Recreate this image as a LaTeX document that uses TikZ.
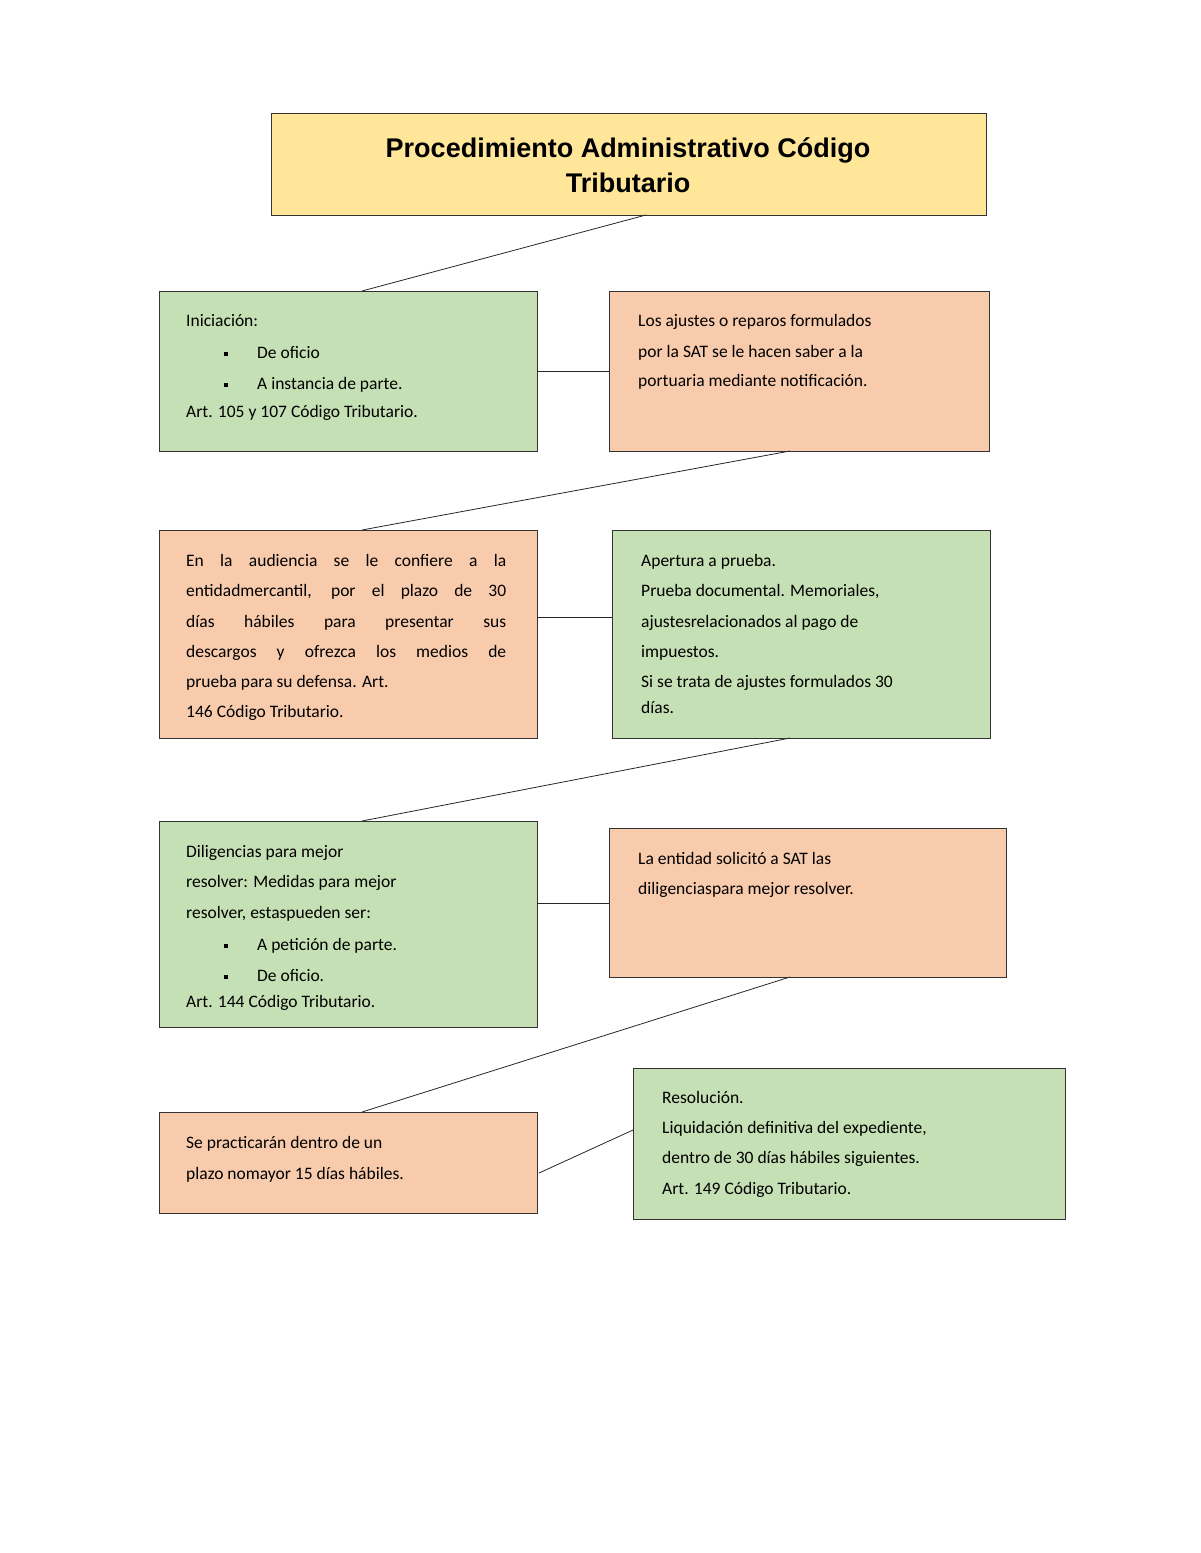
\documentclass[tikz,border=0pt]{standalone}
\usepackage{fontspec}
\setmainfont{Carlito}
\newfontfamily\titlefont{Liberation Sans}
\begin{document}
\begin{tikzpicture}[x=1pt,y=-1pt,
  box/.style={draw=black!80,line width=0.8pt,anchor=north west,inner sep=0pt},
  gbox/.style={box,fill=green1},
  obox/.style={box,fill=orange1},
  tl/.style={anchor=base west,inner sep=0pt,font=\fontsize{17.5}{20}\selectfont},
  conn/.style={draw=black!85,line width=0.8pt}]
\definecolor{green1}{HTML}{C5E0B4}
\definecolor{orange1}{HTML}{F8CBAD}
\definecolor{yellow1}{HTML}{FFE699}
\newcommand{\bul}{\rule[2pt]{4pt}{4pt}}
\useasboundingbox (0,0) rectangle (1200,1553);
\node[box,fill=yellow1,minimum width=715,minimum height=102] (t) at (271,113) {};
\node[font=\titlefont\bfseries\fontsize{27}{35}\selectfont,align=center] (tt) at (628,165) {Procedimiento Administrativo Código\\Tributario};
\node[gbox,minimum width=378,minimum height=160] (b1) at (159,291) {};
\node[obox,minimum width=380,minimum height=160] (b2) at (609,291) {};
\node[obox,minimum width=378,minimum height=208] (b3) at (159,530) {};
\node[gbox,minimum width=378,minimum height=208] (b4) at (612,530) {};
\node[gbox,minimum width=378,minimum height=206] (b5) at (159,821) {};
\node[obox,minimum width=397,minimum height=149] (b6) at (609,828) {};
\node[obox,minimum width=378,minimum height=101] (b7) at (159,1112) {};
\node[gbox,minimum width=432,minimum height=151] (b8) at (633,1068) {};
% connectors
\coordinate (c1) at (646,215); \coordinate (c2) at (362,291);
\draw[conn] (c1) -- (c2);
\draw[conn] (b1.east) -- (b1.east -| b2.west);
\coordinate (c3) at (790,451); \coordinate (c4) at (362,530);
\draw[conn] (c3) -- (c4);
\coordinate (c5) at (537,617); \coordinate (c6) at (612,617);
\draw[conn] (c5) -- (c6);
\coordinate (c7) at (790,738); \coordinate (c8) at (362,821);
\draw[conn] (c7) -- (c8);
\coordinate (c9) at (537,903); \coordinate (c10) at (609,903);
\draw[conn] (c9) -- (c10);
\coordinate (c11) at (790,977); \coordinate (c12) at (362,1112);
\draw[conn] (c11) -- (c12);
\coordinate (c13) at (539,1173); \coordinate (c14) at (633,1130);
\draw[conn] (c13) -- (c14);
% b1
\node[tl] (l1a) at (186,326) {Iniciación:};
\node[tl] (l1b) at (224,358) {\bul};
\node[tl] (l1c) at (257,358) {De oficio};
\node[tl] (l1d) at (224,389) {\bul};
\node[tl] (l1e) at (257,389) {A instancia de parte.};
\node[tl] (l1f) at (186,417) {Art. 105 y 107 Código Tributario.};
% b2
\node[tl] (l2a) at (638,326) {Los ajustes o reparos formulados};
\node[tl] (l2b) at (638,357) {por la SAT se le hacen saber a la};
\node[tl] (l2c) at (638,386) {portuaria mediante notificación.};
% b3
\node[tl] (l3a) at (186,566) {\makebox[320pt][s]{En la audiencia se le confiere a la}};
\node[tl] (l3b) at (186,596) {\makebox[320pt][s]{entidadmercantil, por el plazo de 30}};
\node[tl] (l3c) at (186,627) {\makebox[320pt][s]{días hábiles para presentar sus}};
\node[tl] (l3d) at (186,657) {\makebox[320pt][s]{descargos y ofrezca los medios de}};
\node[tl] (l3e) at (186,687) {prueba para su defensa. Art.};
\node[tl] (l3f) at (186,717) {146 Código Tributario.};
% b4
\node[tl] (l4a) at (641,566) {Apertura a prueba.};
\node[tl] (l4b) at (641,596) {Prueba documental. Memoriales,};
\node[tl] (l4c) at (641,627) {ajustesrelacionados al pago de};
\node[tl] (l4d) at (641,657) {impuestos.};
\node[tl] (l4e) at (641,687) {Si se trata de ajustes formulados 30};
\node[tl] (l4f) at (641,713) {días.};
% b5
\node[tl] (l5a) at (186,857) {Diligencias para mejor};
\node[tl] (l5b) at (186,887) {resolver: Medidas para mejor};
\node[tl] (l5c) at (186,918) {resolver, estaspueden ser:};
\node[tl] (l5d) at (224,950) {\bul};
\node[tl] (l5e) at (257,950) {A petición de parte.};
\node[tl] (l5f) at (224,981) {\bul};
\node[tl] (l5g) at (257,981) {De oficio.};
\node[tl] (l5h) at (186,1007) {Art. 144 Código Tributario.};
% b6
\node[tl] (l6a) at (638,864) {La entidad solicitó a SAT las};
\node[tl] (l6b) at (638,894) {diligenciaspara mejor resolver.};
% b7
\node[tl] (l7a) at (186,1148) {Se practicarán dentro de un};
\node[tl] (l7b) at (186,1179) {plazo nomayor 15 días hábiles.};
% b8
\node[tl] (l8a) at (662,1103) {Resolución.};
\node[tl] (l8b) at (662,1133) {Liquidación definitiva del expediente,};
\node[tl] (l8c) at (662,1163) {dentro de 30 días hábiles siguientes.};
\node[tl] (l8d) at (662,1194) {Art. 149 Código Tributario.};
\end{tikzpicture}
\end{document}
